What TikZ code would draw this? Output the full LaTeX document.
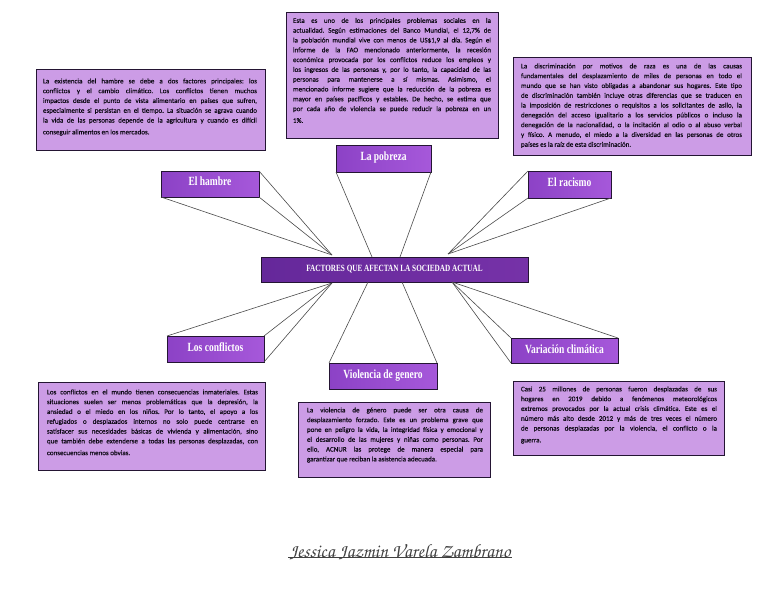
\documentclass[tikz,border=0pt]{standalone}
\usepackage{fontspec}
\setmainfont[FakeBold=0.25]{Carlito}
\newfontfamily\headfont[FakeStretch=0.76]{Liberation Serif}
\definecolor{boxfill}{HTML}{CC9CE6}
\definecolor{boxedge}{HTML}{241533}
\definecolor{headL}{HTML}{8C42C6}
\definecolor{headR}{HTML}{A658DA}
\definecolor{hubL}{HTML}{65289A}
\definecolor{hubR}{HTML}{7632A8}
\definecolor{inkbody}{HTML}{0E0A16}
\definecolor{wire}{HTML}{4A4A4A}
\newcommand{\lastgap}[1]{{\parfillskip=0pt\par}\vspace{#1}\noindent\ignorespaces}
\tikzset{
  x=1pt,y=-1pt,
  infobox/.style={draw=boxedge,line width=1pt,fill=boxfill,rectangle,inner sep=0pt,outer sep=0pt,anchor=north west},
  bodytext/.style={inner sep=0pt,outer sep=0pt,anchor=north west,align=justify,text=inkbody,
    font=\frenchspacing\fontsize{7}{9.8}\selectfont},
  headbox/.style={draw=boxedge,line width=1pt,left color=headL,right color=headR,rectangle,inner sep=0pt,outer sep=0pt,
    anchor=north west,text=white,font=\headfont\bfseries\fontsize{12.5}{13}\selectfont},
  hubbox/.style={headbox,left color=hubL,right color=hubR,font=\headfont\bfseries\fontsize{9.5}{10}\selectfont},
  wireline/.style={draw=wire,line width=0.6pt},
}
\begin{document}
\begin{tikzpicture}
\useasboundingbox (0,0) rectangle (768,594);
% heading boxes
\node[headbox,minimum width=98pt,minimum height=26pt] (hambre) at (161,171) {\raisebox{5pt}{El hambre}};
\node[headbox,minimum width=95pt,minimum height=27pt] (pobreza) at (336,145) {\raisebox{5pt}{La pobreza}};
\node[headbox,minimum width=83pt,minimum height=27pt] (racismo) at (528,171) {\raisebox{5pt}{El racismo}};
\node[hubbox,minimum width=267pt,minimum height=25pt] (hub) at (261,257) {\raisebox{3pt}{FACTORES QUE AFECTAN LA SOCIEDAD ACTUAL}};
\node[headbox,minimum width=97pt,minimum height=26pt] (conflictos) at (167,336) {\raisebox{4pt}{Los conflictos}};
\node[headbox,minimum width=108pt,minimum height=26pt] (violencia) at (329,363) {\raisebox{4pt}{Violencia de genero}};
\node[headbox,minimum width=107pt,minimum height=25pt] (variacion) at (511,338) {\raisebox{3pt}{Variación climática}};
% hubs of the connector fans
\coordinate (hubNW) at (332,255);
\coordinate (hubNE) at (448,254);
\coordinate (hubSW) at (332,283);
\coordinate (hubSE) at (452,282);
\coordinate (hubPL) at (372,257);
\coordinate (hubPR) at (400,257);
\coordinate (hubVL) at (368,282);
\coordinate (hubVR) at (402,282);
% connectors
\draw[wireline] (hambre.north east) -- (hubNW);
\draw[wireline] (hambre.south east) -- (hubNW);
\draw[wireline] (hambre.south west) -- (hubNW);
\draw[wireline] (pobreza.south west) -- (hubPL);
\draw[wireline] (pobreza.south east) -- (hubPR);
\draw[wireline] (racismo.north west) -- (hubNE);
\draw[wireline] (racismo.south west) -- (hubNE);
\draw[wireline] (racismo.south east) -- (hubNE);
\draw[wireline] (conflictos.north west) -- (hubSW);
\draw[wireline] (conflictos.north east) -- (hubSW);
\draw[wireline] (conflictos.south east) -- (hubSW);
\draw[wireline] (violencia.north west) -- (hubVL);
\draw[wireline] (violencia.north east) -- (hubVR);
\draw[wireline] (variacion.north west) -- (hubSE);
\draw[wireline] (variacion.south west) -- (hubSE);
\draw[wireline] (variacion.north east) -- (hubSE);
% info boxes
\node[infobox,minimum width=212pt,minimum height=125pt] (pobrezaBox) at (286,13) {};
\node[bodytext,text width=198pt] (pobrezaText) at (293,18) {Esta es uno de los principales problemas sociales en la\linebreak
actualidad. Según estimaciones del Banco Mundial, el 12,7\% de\linebreak
la población mundial vive con menos de US\$1,9 al día. Según el\linebreak
informe de la FAO mencionado anteriormente, la recesión\linebreak
económica provocada por los conflictos reduce los empleos y\linebreak
los ingresos de las personas y, por lo tanto, la capacidad de las\linebreak
personas para mantenerse a sí mismas. Asimismo, el\linebreak
mencionado informe sugiere que la reducción de la pobreza es\linebreak
mayor en países pacíficos y estables. De hecho, se estima que\linebreak
por cada año de violencia se puede reducir la pobreza en un\lastgap{2pt}
1\%.};
\node[infobox,minimum width=238pt,minimum height=97pt] (racismoBox) at (513,58) {};
\node[bodytext,text width=221pt] (racismoText) at (521,63.5) {La discriminación por motivos de raza es una de las causas\linebreak
fundamentales del desplazamiento de miles de personas en todo el\linebreak
mundo que se han visto obligadas a abandonar sus hogares. Este tipo\linebreak
de discriminación también incluye otras diferencias que se traducen en\linebreak
la imposición de restricciones o requisitos a los solicitantes de asilo, la\linebreak
denegación del acceso igualitario a los servicios públicos o incluso la\linebreak
denegación de la nacionalidad, o la incitación al odio o al abuso verbal\linebreak
y físico. A menudo, el miedo a la diversidad en las personas de otros\lastgap{0pt}
países es la raíz de esta discriminación.};
\node[infobox,minimum width=229pt,minimum height=80pt] (hambreBox) at (36,70) {};
\node[bodytext,text width=214pt] (hambreText) at (43,78.5) {La existencia del hambre se debe a dos factores principales: los\linebreak
conflictos y el cambio climático. Los conflictos tienen muchos\linebreak
impactos desde el punto de vista alimentario en países que sufren,\linebreak
especialmente si persistan en el tiempo. La situación se agrava cuando\linebreak
la vida de las personas depende de la agricultura y cuando es difícil\lastgap{2pt}
conseguir alimentos en los mercados.};
\node[infobox,minimum width=227pt,minimum height=88pt] (conflictosBox) at (38,382) {};
\node[bodytext,text width=211pt] (conflictosText) at (47,389.5) {Los conflictos en el mundo tienen consecuencias inmateriales. Estas\linebreak
situaciones suelen ser menos problemáticas que la depresión, la\linebreak
ansiedad o el miedo en los niños. Por lo tanto, el apoyo a los\linebreak
refugiados o desplazados internos no solo puede centrarse en\linebreak
satisfacer sus necesidades básicas de vivienda y alimentación, sino\linebreak
que también debe extenderse a todas las personas desplazadas, con\lastgap{2pt}
consecuencias menos obvias.};
\node[infobox,minimum width=192pt,minimum height=75pt] (violenciaBox) at (298,402) {};
\node[bodytext,text width=176pt] (violenciaText) at (307,407.5) {La violencia de género puede ser otra causa de\linebreak
desplazamiento forzado. Este es un problema grave que\linebreak
pone en peligro la vida, la integridad física y emocional y\linebreak
el desarrollo de las mujeres y niñas como personas. Por\linebreak
ello, ACNUR las protege de manera especial para\lastgap{0pt}
garantizar que reciban la asistencia adecuada.};
\node[infobox,minimum width=211pt,minimum height=74pt] (variacionBox) at (513,381) {};
\node[bodytext,text width=196pt] (variacionText) at (521,386.5) {Casi 25 millones de personas fueron desplazadas de sus\linebreak
hogares en 2019 debido a fenómenos meteorológicos\linebreak
extremos provocados por la actual crisis climática. Este es el\linebreak
número más alto desde 2012 y más de tres veces el número\linebreak
de personas desplazadas por la violencia, el conflicto o la\lastgap{2pt}
guerra.};
% signature
\coordinate (sigL) at (288,557);
\coordinate (sigR) at (512,557);
\draw[draw=black!75,line width=0.7pt] (sigL) -- (sigR);
\node[inner sep=0pt,text=black!75,font={\fontencoding{T1}\fontfamily{pzc}\fontseries{m}\fontshape{it}\fontsize{19}{20}\selectfont}] (firma) at (400,552) {Jessica Jazmin Varela Zambrano};
\end{tikzpicture}
\end{document}
